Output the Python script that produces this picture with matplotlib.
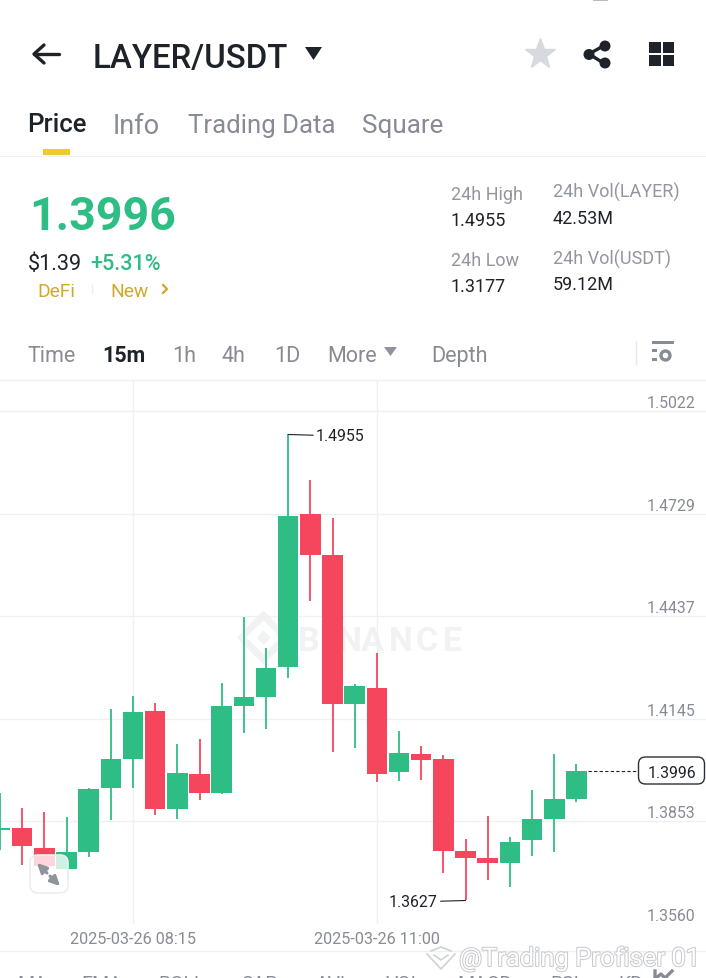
#coding:utf-8
import matplotlib
matplotlib.use("Agg")
import matplotlib.pyplot as plt
import matplotlib.patches as patches
import matplotlib.patheffects as pe

plt.rcParams['font.family'] = ['Roboto', 'DejaVu Sans']

# candles, oldest first
opens = [1.3828, 1.3834, 1.3776, 1.3716, 1.3766, 1.3947, 1.4031, 1.4166, 1.3887,
         1.3988, 1.3934, 1.4180, 1.4208, 1.4293, 1.4728, 1.4611, 1.4188, 1.4233,
         1.3994, 1.4045, 1.4030, 1.3769, 1.3749, 1.3735, 1.3800, 1.3858, 1.3915]
highs = [1.3933, 1.3890, 1.3878, 1.3865, 1.3947, 1.4173, 1.4211, 1.4191, 1.4072,
         1.4088, 1.4246, 1.4436, 1.4346, 1.4955, 1.4825, 1.4716, 1.4243, 1.4332,
         1.4110, 1.4067, 1.4042, 1.3802, 1.3868, 1.3809, 1.3943, 1.4045, 1.4017]
lows = [1.3771, 1.3727, 1.3725, 1.3716, 1.3750, 1.3856, 1.3948, 1.3872, 1.3860,
        1.3914, 1.3931, 1.4105, 1.4115, 1.4262, 1.4481, 1.4051, 1.4061, 1.3964,
        1.3968, 1.3971, 1.3706, 1.3627, 1.3686, 1.3666, 1.3755, 1.3766, 1.3908]
closes = [1.3833, 1.3783, 1.3725, 1.3764, 1.3946, 1.4029, 1.4163, 1.3887, 1.3990,
          1.3934, 1.4180, 1.4206, 1.4289, 1.4722, 1.4611, 1.4188, 1.4237, 1.3988,
          1.4047, 1.4028, 1.3767, 1.3749, 1.3734, 1.3795, 1.3858, 1.3915, 1.3996]

price_ticks = [1.5022, 1.4729, 1.4437, 1.4145, 1.3853, 1.3560]
time_ticks = [6, 17]
time_labels = ['2025-03-26 08:15', '2025-03-26 11:00']
high_idx, high_label = 13, '1.4955'
low_idx, low_label = 21, '1.3627'
last_label = '1.3996'

tabs = ['Price', 'Info', 'Trading Data', 'Square']
intervals = ['Time', '15m', '1h', '4h', '1D', 'More', 'Depth']
indicators = ['MA', 'EMA', 'BOLL', 'SAR', 'AVL', 'VOL', 'MACD', 'RSI', 'KD']

GREEN = '#2ebd85'
RED = '#f6465d'
DARK = '#1e2329'
GREY = '#868b94'
LINE = '#eff0f2'

W, H = 706, 979
fig = plt.figure(figsize=(W / 100, H / 100), dpi=100, facecolor='white')

def pixel_axes(z):
    a = fig.add_axes([0, 0, 1, 1], zorder=z)
    a.set_xlim(0, W)
    a.set_ylim(H, 0)
    a.axis('off')
    a.patch.set_alpha(0)
    return a

ui = pixel_axes(0)
top = pixel_axes(2)

def label(x, y, s, size, color=GREY, weight='normal', ha='left', a=None, **kw):
    return (a or ui).text(x, y, s, fontsize=size, color=color, fontweight=weight,
                          ha=ha, va='center_baseline', **kw)

# header
ui.add_patch(patches.Rectangle((593, 0), 15, 2, color='#b8bcc2', lw=0))
ui.plot([34, 59], [55, 55], color=DARK, lw=2.4, solid_capstyle='round')
ui.plot([44, 34, 44], [46, 55, 64], color=DARK, lw=2.4, solid_capstyle='round')
label(93, 56, 'LAYER/USDT', 23.8, DARK, 'medium')
ui.add_patch(patches.Polygon([(305, 48), (322, 48), (313.5, 61)], color=DARK, lw=0))
ui.plot(540, 55, marker='*', ms=23, color='#d6d9dd', mec='#d6d9dd')
ui.plot([605, 589, 605], [46, 55, 65], color=DARK, lw=2.4)
for cx, cy in [(605, 47), (589, 55.5), (605, 64)]:
    ui.add_patch(patches.Circle((cx, cy), 5.5, color=DARK, lw=0))
for sx, sy in [(649, 43), (662.5, 43), (649, 56), (662.5, 56)]:
    ui.add_patch(patches.Rectangle((sx, sy), 11.5, 11, color=DARK, lw=0))

# tabs
label(27.5, 123, tabs[0], 18.5, DARK, 'medium')
label(113, 123, tabs[1], 19.5)
label(188, 123, tabs[2], 18.5)
label(362, 123, tabs[3], 18.7)
ui.add_patch(patches.Rectangle((43, 150), 27, 6, color='#f0c92f', lw=0))
ui.plot([0, W], [156.5, 156.5], color=LINE, lw=0.8)

# price block
label(29, 212, '1.3996', 33.5, GREEN, 'bold')
label(27.5, 262, '$1.39', 15.6, DARK)
label(90.5, 262, '+5.31%', 15.6, GREEN, 'medium')
label(37.5, 290, 'DeFi', 13.8, '#cfa928')
ui.plot([92, 92], [286, 294], color='#eceef0', lw=1)
label(110, 290, 'New', 13.8, '#cfa928')
ui.plot([163, 167, 163], [286, 290, 294], color='#cfa928', lw=1.6)

label(451, 193, '24h High', 13, '#92969e')
label(451, 219, '1.4955', 13, DARK)
label(553, 190, '24h Vol(LAYER)', 13, '#92969e')
label(553, 217, '42.53M', 13, DARK)
label(451, 259, '24h Low', 13, '#92969e')
label(451, 285, '1.3177', 13, DARK)
label(553, 257, '24h Vol(USDT)', 13, '#92969e')
label(553, 283, '59.12M', 13, DARK)

# interval row
for x, s in zip([27, 102, 172, 222, 274, 327, 431], intervals):
    if s == '15m':
        label(x, 354, s, 15.5, DARK, 'bold')
    else:
        label(x, 354, s, 15.5)
ui.add_patch(patches.Polygon([(384, 348), (397, 348), (390.5, 357)], color='#8f949c', lw=0))
ui.plot([636, 636], [342, 365], color='#e6e8ea', lw=1)
ui.add_patch(patches.Rectangle((652, 342), 22, 3, color=GREY, lw=0))
ui.add_patch(patches.Rectangle((652, 350), 5, 3, color=GREY, lw=0))
ui.add_patch(patches.Rectangle((652, 359), 5, 3, color=GREY, lw=0))
ui.add_patch(patches.Circle((665.5, 356.5), 4.5, fc='white', ec=GREY, lw=2.4))

ui.plot([0, W], [381, 381], color=LINE, lw=1)
ui.plot([0, W], [951.5, 951.5], color=LINE, lw=1)

# chart watermark, sits under the candles
ui.plot(263, 638, marker='D', ms=22, mfc='none', mec='#f1f2f3', mew=5)
ui.plot(263, 638, marker='D', ms=6, color='#f1f2f3')
for x, s in zip([298, 326, 338, 361, 389, 416, 443], 'BINANCE'):
    label(x, 638.5, s, 24.5, '#f1f2f3', 'bold')

# chart
ax = fig.add_axes([0, 1 - 925 / H, 1, (925 - 382) / H], zorder=1)
ax.patch.set_alpha(0)
for s in ax.spines.values():
    s.set_visible(False)
ax.set_xlim(0, W / 22.17)
ax.set_ylim(1.3560, 1.3560 + 543 / 3509)

ax.set_yticks(price_ticks)
ax.set_yticklabels([])
ax.set_xticks(time_ticks)
ax.set_xticklabels(time_labels, fontsize=11.7, color=GREY)
ax.tick_params(length=0, pad=5)
ax.grid(True, color=LINE, lw=1)
ax.set_axisbelow(True)
for p in price_ticks:
    ax.annotate('%.4f' % p, xy=(1, p), xycoords=ax.get_yaxis_transform(), xytext=(-7.5, 7.2),
                textcoords='offset points', ha='right', va='center_baseline',
                fontsize=11.4, color=GREY)

idx = list(range(len(closes)))
colors = [GREEN if c >= o else RED for o, c in zip(opens, closes)]
ax.vlines(idx, lows, highs, colors=colors, lw=1.3, clip_on=True)
ax.bar(idx, [abs(c - o) for o, c in zip(opens, closes)],
       bottom=[min(o, c) for o, c in zip(opens, closes)],
       width=20.5 / 22.17, color=colors, lw=0)

ax.annotate(high_label, xy=(high_idx, highs[high_idx]), xytext=(20, 0),
            textcoords='offset points', va='center_baseline', fontsize=11.4, color=DARK,
            arrowprops=dict(arrowstyle='-', color=DARK, lw=0.8, shrinkA=0, shrinkB=0))
ax.annotate(low_label, xy=(low_idx, lows[low_idx]), xytext=(-20, 0),
            textcoords='offset points', ha='right', va='center_baseline', fontsize=11.4,
            color=DARK, arrowprops=dict(arrowstyle='-', color=DARK, lw=0.8, shrinkA=0, shrinkB=0))

# last price line and box
ax.plot([idx[-1] + 0.5, 638 / 22.17], [closes[-1], closes[-1]], color=DARK, lw=0.8, ls=(0, (3, 2)))
top.add_patch(patches.FancyBboxPatch((638.5, 758), 66, 27, boxstyle='round,pad=0,rounding_size=7',
                                     fc='white', ec='#2b3038', lw=1))
label(671.5, 772.5, last_label, 11.4, DARK, ha='center', a=top)

# expand button
top.add_patch(patches.FancyBboxPatch((30, 856), 38, 38, boxstyle='round,pad=0,rounding_size=8',
                                     fc=(1, 1, 1, 0.78), ec='#eceef0', lw=1.2))
top.annotate('', xy=(37, 864), xytext=(47, 874),
             arrowprops=dict(arrowstyle='-|>', color='#8f949c', lw=2.2, shrinkA=0, shrinkB=0, mutation_scale=14))
top.annotate('', xy=(60, 887), xytext=(50, 877),
             arrowprops=dict(arrowstyle='-|>', color='#8f949c', lw=2.2, shrinkA=0, shrinkB=0, mutation_scale=14))

# indicator row, cut by the bottom edge as in the screenshot
for x, s in zip([17, 81, 158, 241, 316, 386, 457, 550, 618], indicators):
    label(x, 982.5, s, 14, '#868b94', a=top)
top.plot([655, 655, 661, 665, 672], [972, 980, 975, 979, 972], color=GREY, lw=2.4)

# repost watermark
outline = [pe.withStroke(linewidth=1.4, foreground='#c6c9cd')]
top.text(459, 957, '@Trading Profiser 01', fontsize=18.4, color='white', va='center_baseline',
         path_effects=outline)
top.plot([431, 441, 451], [952, 948, 952], color='#cfd2d5', lw=1.2)
top.plot([434, 441, 448], [956, 961, 956], color='#cfd2d5', lw=1.2)
top.plot([427, 441, 455], [955, 970, 955], color='#cfd2d5', lw=1.2)

fig.savefig('out.png', dpi=100)
